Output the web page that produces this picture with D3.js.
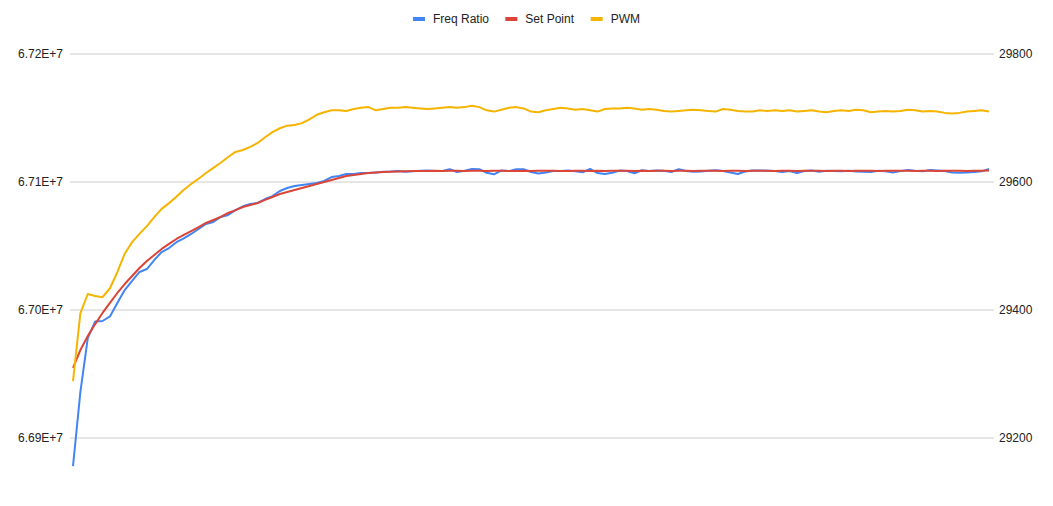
<!DOCTYPE html>
<html>
<head>
<meta charset="utf-8">
<script src="https://cdn.jsdelivr.net/npm/d3@7"></script>
<style>
  body { margin: 0; background: #fff; }
  text { font-family: "Liberation Sans", Arial, sans-serif; }
</style>
</head>
<body>
<div id="chart"></div>
<script>
const seriesNames = ["Freq Ratio", "Set Point", "PWM"];
const seriesColors = ["#4285F4", "#DB4437", "#F4B400"];
const leftTicks = [66900000, 67000000, 67100000, 67200000];
const leftTickLabels = ["6.69E+7", "6.70E+7", "6.71E+7", "6.72E+7"];
const rightTicks = [29200, 29400, 29600, 29800];

const freqRatio = [
  66878000, 66936000, 66978000, 66991000, 66991400, 66995000, 67005500, 67015600, 67022700, 67029700,
  67032000, 67039000, 67045300, 67048400, 67053000, 67056000, 67059400, 67063300, 67067200, 67068800,
  67072700, 67074200, 67078000, 67081000, 67082800, 67083600, 67086700, 67089000, 67093000, 67095300,
  67096900, 67097700, 67098400, 67099200, 67100800, 67103900, 67104700, 67106200, 67106200, 67107000,
  67107000, 67107500, 67108000, 67108200, 67108600, 67108000, 67108300, 67108700, 67109000, 67108500,
  67108600, 67110000, 67107800, 67108800, 67110200, 67110000, 67107200, 67106000, 67109000, 67108500,
  67110000, 67110000, 67107800, 67106600, 67107400, 67108600, 67108600, 67109000, 67108300, 67107600,
  67110200, 67107000, 67106200, 67107200, 67108900, 67108600, 67106800, 67109200, 67108600, 67108900,
  67108700, 67107800, 67110000, 67108600, 67108000, 67108200, 67108800, 67109200, 67108600, 67107500,
  67106300, 67108200, 67109000, 67109000, 67108800, 67108500, 67107800, 67108600, 67107000, 67108500,
  67108900, 67108000, 67108700, 67108600, 67108400, 67108800, 67108200, 67108000, 67107900, 67108800,
  67108400, 67107500, 67108500, 67109400, 67108700, 67108300, 67109300, 67108900, 67108500, 67107500,
  67107300, 67107400, 67107800, 67108300, 67110200
];

const setPoint = [
  66954700, 66968750, 66979700, 66989000, 66997700, 67005500, 67013300, 67020300, 67026600, 67032800,
  67038300, 67043000, 67047700, 67051600, 67055500, 67058600, 67061700, 67064800, 67068000, 67070300,
  67072700, 67075800, 67078000, 67080500, 67082000, 67083600, 67086000, 67088300, 67090600, 67092200,
  67093750, 67095300, 67096900, 67098400, 67100000, 67101600, 67103100, 67104700, 67105500, 67106250,
  67107000, 67107400, 67107800, 67108100, 67108300, 67108400, 67108500, 67108600, 67108600, 67108700,
  67108600, 67108700, 67108700, 67108600, 67108700, 67108800, 67108600, 67108700, 67108700, 67108600,
  67108600, 67108800, 67108600, 67108700, 67108700, 67108800, 67108600, 67108500, 67108700, 67108700,
  67108600, 67108700, 67108600, 67108700, 67108800, 67108700, 67108600, 67108700, 67108600, 67108800,
  67108700, 67108600, 67108700, 67108700, 67108600, 67108700, 67108700, 67108800, 67108600, 67108700,
  67108700, 67108600, 67108700, 67108800, 67108700, 67108600, 67108700, 67108700, 67108600, 67108700,
  67108800, 67108700, 67108600, 67108700, 67108700, 67108600, 67108700, 67108800, 67108700, 67108600,
  67108700, 67108700, 67108800, 67108700, 67108600, 67108700, 67108700, 67108600, 67108700, 67108800,
  67108700, 67108600, 67108700, 67108800, 67108900
];

const pwm = [
  29289, 29395, 29425, 29422, 29420, 29434, 29459, 29488, 29506, 29519,
  29531, 29545, 29558, 29567, 29577, 29588, 29597, 29605, 29614, 29622,
  29630, 29639, 29647, 29650, 29655, 29661, 29670, 29678, 29684, 29688,
  29689, 29692, 29698, 29705, 29709, 29712, 29712, 29711, 29714, 29716,
  29717, 29712, 29714, 29716, 29716, 29717, 29716, 29715, 29714, 29715,
  29716, 29717, 29716, 29717, 29719, 29717, 29712, 29710, 29713, 29716,
  29717, 29715, 29710, 29709, 29712, 29714, 29716, 29715, 29713, 29714,
  29712, 29710, 29714, 29715, 29715, 29716, 29715, 29713, 29714, 29713,
  29711, 29710, 29711, 29712, 29713, 29712, 29711, 29710, 29714, 29713,
  29711, 29710, 29710, 29712, 29711, 29712, 29711, 29712, 29710, 29711,
  29712, 29710, 29709, 29711, 29712, 29711, 29713, 29712, 29709, 29710,
  29711, 29710, 29711, 29713, 29712, 29710, 29711, 29710, 29708, 29707,
  29708, 29710, 29711, 29712, 29710
];

const width = 1053, height = 506;
const margin = { left: 73, right: 64, top: 54, bottom: 68 };

const svg = d3.select("#chart").append("svg")
  .attr("width", width)
  .attr("height", height);

const n = Math.max(freqRatio.length, setPoint.length, pwm.length);
const x = d3.scaleLinear().domain([0, n - 1]).range([margin.left, width - margin.right]);
const yLeft = d3.scaleLinear().domain([66900000, 67200000]).range([height - margin.bottom, margin.top]);
const yRight = d3.scaleLinear().domain([29200, 29800]).range([height - margin.bottom, margin.top]);

// gridlines
svg.append("g")
  .selectAll("line")
  .data(leftTicks)
  .join("line")
  .attr("x1", 70)
  .attr("x2", 994)
  .attr("y1", d => yLeft(d))
  .attr("y2", d => yLeft(d))
  .attr("stroke", "#cccccc")
  .attr("stroke-width", 1);

// left axis
svg.append("g")
  .attr("transform", "translate(70,0)")
  .call(d3.axisLeft(yLeft).tickValues(leftTicks).tickSize(0).tickPadding(7)
    .tickFormat((d, i) => leftTickLabels[i]))
  .call(g => g.select(".domain").remove())
  .selectAll("text")
  .attr("font-size", 12)
  .attr("fill", "#222");

// right axis
svg.append("g")
  .attr("transform", "translate(994,0)")
  .call(d3.axisRight(yRight).tickValues(rightTicks).tickSize(0).tickPadding(5)
    .tickFormat(d3.format("d")))
  .call(g => g.select(".domain").remove())
  .selectAll("text")
  .attr("font-size", 12)
  .attr("fill", "#222");

const lineLeft = d3.line().x((d, i) => x(i)).y(d => yLeft(d));
const lineRight = d3.line().x((d, i) => x(i)).y(d => yRight(d));

const lines = [
  { data: freqRatio, gen: lineLeft, color: seriesColors[0] },
  { data: setPoint, gen: lineLeft, color: seriesColors[1] },
  { data: pwm, gen: lineRight, color: seriesColors[2] }
];

svg.append("g")
  .selectAll("path")
  .data(lines)
  .join("path")
  .attr("d", d => d.gen(d.data))
  .attr("fill", "none")
  .attr("stroke", d => d.color)
  .attr("stroke-width", 2)
  .attr("stroke-linejoin", "round");

// legend
const legend = svg.append("g").attr("transform", "translate(0,19)");
const items = legend.selectAll("g")
  .data(seriesNames)
  .join("g");
items.append("rect")
  .attr("width", 12)
  .attr("height", 4)
  .attr("y", -2)
  .attr("fill", (d, i) => seriesColors[i]);
items.append("text")
  .attr("x", 20)
  .attr("dy", "0.35em")
  .attr("font-size", 12)
  .attr("fill", "#222")
  .text(d => d);

let offset = 0;
const widths = [];
items.each(function () {
  widths.push(this.getBBox().width);
});
const gap = 16;
const total = d3.sum(widths) + gap * (widths.length - 1);
offset = (width - total) / 2;
items.attr("transform", (d, i) => {
  const t = `translate(${offset},0)`;
  offset += widths[i] + gap;
  return t;
});
</script>
</body>
</html>
